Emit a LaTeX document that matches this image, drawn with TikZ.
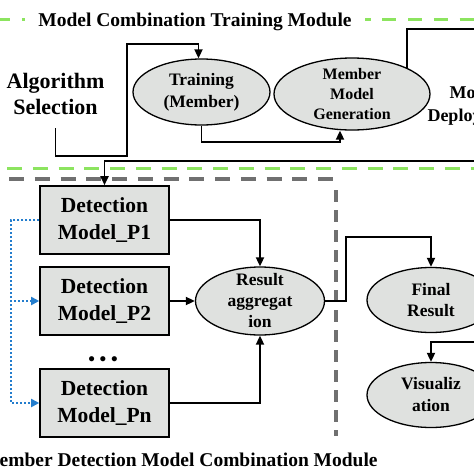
\documentclass[tikz,border=0pt]{standalone}
\usepackage{fontspec}
\setmainfont{Liberation Serif}
\usetikzlibrary{shapes.geometric,arrows.meta}
\definecolor{lgreen}{RGB}{140,228,95}
\definecolor{dgray}{RGB}{112,112,112}
\definecolor{fillgray}{RGB}{223,225,223}
\definecolor{dotblue}{RGB}{35,125,205}
\begin{document}
\begin{tikzpicture}[x=1pt,y=-1pt,
  ell/.style={draw, ellipse, fill=fillgray, line width=1.3pt, inner xsep=0pt, inner ysep=-12pt, align=center},
  detbox/.style={draw, rectangle, fill=fillgray, line width=1.6pt, minimum width=129pt, minimum height=68pt, align=center, inner sep=0pt, font=\bfseries\fontsize{21.5}{27}\selectfont},
  conn/.style={line width=1.8pt, -{Triangle[length=9pt,width=8pt]}},
  plainline/.style={line width=1.8pt},
  bconn/.style={line width=1.8pt, dotblue, dash pattern=on 1.8pt off 2.2pt, -{Triangle[length=8pt,width=8pt]}},
  bline/.style={line width=1.8pt, dotblue, dash pattern=on 1.8pt off 2.2pt},
  greendash/.style={line width=3pt, lgreen, dash pattern=on 14pt off 11.75pt},
  graydash/.style={line width=3.5pt, dgray, dash pattern=on 15pt off 10.75pt},
  grayvdash/.style={line width=3.5pt, dgray, dash pattern=on 12pt off 8pt},
  modlabel/.style={font=\bfseries\fontsize{19.5}{23}\selectfont, inner sep=0pt}
]
\useasboundingbox (0,0) rectangle (474,474);
\clip (0,0) rectangle (474,474);
\fill[white] (0,0) rectangle (474,474);

% module separators
\draw[greendash] (-4,19) -- (480,19);
\node[modlabel, fill=white, inner xsep=13pt, anchor=base] (toplabel) at (195,26) {Model Combination Training Module};
\draw[greendash, dash pattern=on 15pt off 10.75pt] (7,168) -- (480,168);
\draw[graydash] (9,179) -- (333,179);
\draw[grayvdash] (336,190) -- (336,436);
\node[modlabel, anchor=base west] (botlabel) at (-19,466) {Member Detection Model Combination Module};

% top module
\node[font=\bfseries\fontsize{22}{26}\selectfont, align=center, inner sep=0pt] (algsel) at (55.5,93.5) {Algorithm\\Selection};
\node[ell, minimum width=137pt, minimum height=66pt, font=\bfseries\fontsize{17.5}{22}\selectfont] (train) at (201.5,92) {Training\\(Member)};
\node[ell, minimum width=156pt, minimum height=72pt, font=\bfseries\fontsize{16}{20}\selectfont] (gen) at (352,94) {Member\\Model\\Generation};
\node[font=\bfseries\fontsize{18}{23}\selectfont, align=center, inner sep=0pt] (deploy) at (474,106) {Model\\Deployment};

% bottom module
\node[detbox] (p1) at (104.5,220) {Detection\\Model\_P1};
\node[detbox] (p2) at (104.5,301) {Detection\\Model\_P2};
\node[font=\bfseries\fontsize{19}{23}\selectfont, inner sep=0pt] (dots) at (103,361) {• • •};
\node[detbox] (pn) at (104.5,403) {Detection\\Model\_Pn};
\node[ell, minimum width=129pt, minimum height=68pt, font=\bfseries\fontsize{17.5}{21}\selectfont] (res) at (260,301) {Result\\aggregat\\ion};
\node[ell, minimum width=128pt, minimum height=65pt, font=\bfseries\fontsize{17.5}{21}\selectfont] (final) at (431,300) {Final\\Result};
\node[ell, minimum width=128pt, minimum height=65pt, font=\bfseries\fontsize{17.5}{22}\selectfont] (vis) at (431,395) {Visualiz\\ation};

% free ends beyond the right edge
\coordinate (deployin) at (480,29);
\coordinate (deployout) at (480,161);
\coordinate (visin) at (480,342);

% connectors
\draw[conn] ([yshift=-14pt]algsel.south) |- (127,156) -- (127,44) -| ([xshift=-3pt]train.north);
\draw[conn] (train.south) -- ++(0,16) -| ([xshift=-12pt]gen.south);
\draw[plainline] ([xshift=55pt,yshift=25.5pt]gen.center) |- (deployin);
\draw[conn] (deployout) -| (p1.north);
\draw[conn] (p1.east) -| (res.north);
\draw[conn] (p2.east) -- (res.west);
\draw[conn] (pn.east) -| (res.south);
\draw[conn] (res.east) -- ++(21,0) |- ([yshift=30pt]final.north) -- (final.north);
\draw[conn] (visin) -| (vis.north);

% blue dotted links
\draw[bline] (p1.west) -- ++(-28,0);
\draw[bconn] (p1.west) -| ([xshift=-28pt]p2.west) -- (p2.west);
\draw[bconn] (p1.west) -| ([xshift=-28pt]pn.west) -- (pn.west);
\end{tikzpicture}
\end{document}
